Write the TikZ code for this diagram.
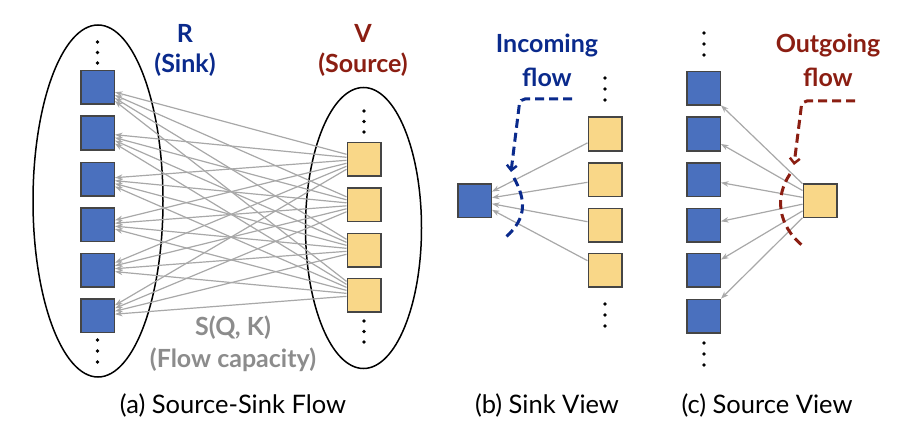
\documentclass[tikz,border=0pt]{standalone}
\usepackage{fontspec}
\setmainfont{Lato}
\usetikzlibrary{arrows.meta,shapes.geometric}
\definecolor{sqblue}{HTML}{4A70BE}
\definecolor{sqyel}{HTML}{F9D788}
\definecolor{sqedge}{HTML}{454545}
\definecolor{flowgrey}{HTML}{A8A8A8}
\definecolor{txtblue}{HTML}{0A2A8C}
\definecolor{txtred}{HTML}{8B1E12}
\definecolor{txtgrey}{HTML}{8C8C8C}
\begin{document}
\begin{tikzpicture}[x=1pt,y=-1pt,
  sinkbox/.style={draw=sqedge,line width=1.5pt,fill=sqblue,minimum size=33.5pt,inner sep=0pt},
  srcbox/.style={sinkbox,fill=sqyel},
  flow/.style={draw=flowgrey,line width=1.2pt,-{Stealth[length=7.5pt,width=5.5pt]}},
  group/.style={draw=black,line width=1.5pt,ellipse,inner sep=0pt},
  lbl/.style={font=\bfseries\fontsize{25}{30}\selectfont,inner sep=0pt},
  capt/.style={font=\fontsize{25.5}{30}\selectfont,inner sep=0pt},
  fdash/.style={line width=3pt,dash pattern=on 9pt off 5pt,rounded corners=5pt},
  vdot/.style={fill=black}
]
\useasboundingbox (0,0) rectangle (898,436);

% ---------- (a) ----------
\node[group,minimum width=130pt,minimum height=352pt] (E1) at (98,201) {};
\node[group,minimum width=116pt,minimum height=281pt] (E2) at (363.5,228) {};

\foreach \i/\y in {1/87.5,2/133,3/179,4/224.5,5/270,6/315.5}
  \node[sinkbox] (a\i) at (97.5,\y) {};
\foreach \j/\y in {1/159,2/204.5,3/250,4/295}
  \node[srcbox] (v\j) at (364,\y) {};

\foreach \j in {1,...,4}
  \foreach \i in {1,...,6}
    \draw[flow] (v\j) -- (a\i);

\foreach \y in {42,52.5,63,340,351,362}
  \fill[vdot] (97.5,\y) circle (1.8pt);
\foreach \y in {111,121.5,132,321,331.5,342}
  \fill[vdot] (364,\y) circle (1.8pt);

\node[lbl,text=txtblue] (R1) at (185,33) {R};
\node[lbl,text=txtblue] (R2) at (185,65) {(Sink)};
\node[lbl,text=txtred] (V1) at (363,33) {V};
\node[lbl,text=txtred] (V2) at (363,65) {(Source)};
\node[lbl,text=txtgrey] (S1) at (233,328) {S(Q, K)};
\node[lbl,text=txtgrey] (S2) at (233,360) {(Flow capacity)};
\node[capt] (capa) at (233,405) {(a) Source-Sink Flow};

% ---------- (b) ----------
\node[sinkbox] (b0) at (474.5,200.5) {};
\foreach \j/\y in {1/134,2/179.5,3/225,4/270}
  \node[srcbox] (b\j) at (605,\y) {};
\foreach \j in {1,...,4}
  \draw[flow] (b\j) -- (b0);
\foreach \y in {78,89,100,304,315,326}
  \fill[vdot] (605,\y) circle (1.8pt);

\node[lbl,text=txtblue] (inc1) at (547,45) {Incoming};
\node[lbl,text=txtblue] (inc2) at (547,77) {flow};
\coordinate (bd1) at (572,99);
\coordinate (bd2) at (520,99);
\coordinate (bd3) at (511,172);
\coordinate (bc1) at (514,178);
\coordinate (bc2) at (506,237);
\draw[fdash,draw=txtblue,-{Straight Barb[length=5pt,width=10pt,line width=2.5pt]}] (bd1) -- (bd2) -- (bd3);
\draw[fdash,draw=txtblue] (bc1) .. controls (526,200) and (527,218) .. (bc2);
\node[capt] (capb) at (547,405) {(b) Sink View};

% ---------- (c) ----------
\node[srcbox] (c0) at (820,200.5) {};
\foreach \i/\y in {1/88.5,2/134,3/179.5,4/225,5/270,6/316}
  \node[sinkbox] (c\i) at (703.5,\y) {};
\foreach \i in {1,...,6}
  \draw[flow] (c0) -- (c\i);
\foreach \y in {33,44,55,343,354,365}
  \fill[vdot] (704,\y) circle (1.8pt);

\node[lbl,text=txtred] (out1) at (828,45) {Outgoing};
\node[lbl,text=txtred] (out2) at (828,77) {flow};
\coordinate (cd1) at (855,101);
\coordinate (cd2) at (802,101);
\coordinate (cd3) at (794,165);
\coordinate (cc1) at (790,174);
\coordinate (cc2) at (803,246);
\draw[fdash,draw=txtred,-{Straight Barb[length=5pt,width=10pt,line width=2.5pt]}] (cd1) -- (cd2) -- (cd3);
\draw[fdash,draw=txtred] (cc1) .. controls (775,196) and (777,225) .. (cc2);
\node[capt] (capc) at (767,405) {(c) Source View};
\end{tikzpicture}
\end{document}
